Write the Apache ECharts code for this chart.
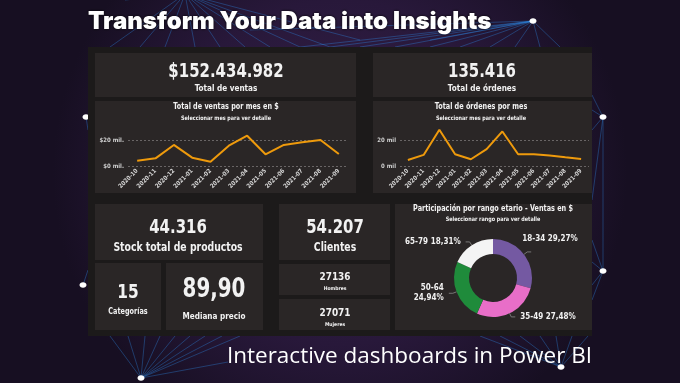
<!DOCTYPE html>
<html><head><meta charset="utf-8">
<script src="https://cdn.jsdelivr.net/npm/echarts@6/dist/echarts.min.js"></script>
<style>html,body{margin:0;padding:0;background:#231631;overflow:hidden}#c{width:680px;height:383px}</style>
</head><body><div id="c"></div>
<script>
// ---- data ----
const months = ['2020-10','2020-11','2020-12','2021-01','2021-02','2021-03','2021-04','2021-05','2021-06','2021-07','2021-08','2021-09'];
const salesByMonth = [4.1, 5.9, 16.2, 6.4, 3.3, 15.6, 23.3, 9.0, 16.2, 18.2, 20.0, 9.2];   // $ mil.
const ordersByMonth = [4.7, 8.7, 28.4, 9.2, 5.3, 13.2, 27.1, 9.2, 9.2, 8.2, 6.8, 5.5];    // mil
const ageRanges = ['18-34', '35-49', '50-64', '65-79'];
const ageShares = [29.27, 27.48, 24.94, 18.31];
const kpiValues = ['$152.434.982', '135.416', '44.316', '15', '89,90', '54.207', '27136', '27071'];
const kpiLabels = ['Total de ventas', 'Total de órdenes', 'Stock total de productos', 'Categorías', 'Mediana precio', 'Clientes', 'Hombres', 'Mujeres'];
const salesTicks = [0, 20];
const orderTicks = [0, 20];

// ---- styling ----
const F = '"DejaVu Sans Condensed","DejaVu Sans",sans-serif';
const TILE = '#2a2626';
const ORANGE = '#ee9a0c';
const pieColors = ['#7459a2', '#e86ec8', '#1f8b3b', '#f4f4f4'];

const chart = echarts.init(document.getElementById('c'), null, {renderer: 'canvas'});

function rect(x, y, w, h, fill, z) {
  return {type: 'rect', shape: {x, y, width: w, height: h}, style: {fill}, z: z || 1, silent: true};
}
function txt(s, x, y, size, opts) {
  opts = opts || {};
  return {type: 'text', z: 5, silent: true, x: x, y: y, scaleX: opts.sx || 1,
    style: {text: s, x: 0, y: 0, fill: opts.fill || '#f2f2f2',
    font: (opts.weight || 'bold') + ' ' + size + 'px ' + (opts.family || F),
    textAlign: opts.align || 'center', textVerticalAlign: 'middle',
    textShadowColor: opts.shadow || 'transparent', textShadowBlur: opts.shadow ? 3 : 0}};
}

// decorative network
const nodes = [[533,21],[603,117],[603,271],[86,117],[83,285],[141,378],[561,367],[185,-6]];
const links = [
  [0,[300,47]],[0,[330,47]],[0,[360,47]],[0,[395,47]],[0,[430,47]],[0,[460,47]],[0,[490,47]],[0,[515,47]],[0,[540,47]],[0,[560,47]],[0,[250,30]],[0,[430,40]],
  [7,[110,47]],[7,[140,47]],[7,[165,47]],[7,[195,47]],[7,[220,47]],[7,[245,47]],[7,[270,47]],[7,[300,47]],[7,[330,47]],[7,[360,40]],[7,[125,0]],
  [1,[592,95]],[1,[592,110]],[1,[592,130]],[1,[603,271]],[1,[592,200]],
  [2,[592,240]],[2,[592,262]],[2,[592,285]],[2,[592,300]],
  [5,[110,336]],[5,[128,336]],[5,[145,336]],[5,[160,336]],[5,[175,336]],[5,[190,336]],[5,[205,336]],[5,[222,336]],[5,[240,336]],[5,[228,362]],
  [6,[480,336]],[6,[500,336]],[6,[520,336]],[6,[540,336]],[6,[556,336]],[6,[572,336]],[6,[588,336]],
  [3,[88,130]],[4,[88,270]]
];
const decor = [];
links.forEach(l => {
  const n = nodes[l[0]];
  decor.push({type: 'line', silent: true, z: 0, shape: {x1: n[0], y1: n[1], x2: l[1][0], y2: l[1][1]},
    style: {stroke: 'rgba(45,140,235,0.5)', lineWidth: 0.7}});
});
nodes.forEach(n => decor.push({type: 'ellipse', silent: true, z: 0, shape: {cx: n[0], cy: n[1], rx: 3.5, ry: 2.8}, style: {fill: '#ffffff'}}));

const VS = 0.83, LS = 0.9;
const graphics = [
  {type: 'rect', z: -1, silent: true, shape: {x: 0, y: 0, width: 680, height: 383},
    style: {fill: new echarts.graphic.RadialGradient(0.5, 0.45, 0.75, [
      {offset: 0, color: '#35214a'}, {offset: 0.6, color: '#28183a'}, {offset: 1, color: '#170f22'}])}},
  ...decor,
  rect(88, 47, 504, 289, '#1c1a1a', 1),
  rect(95, 53, 261, 44, TILE, 2), rect(373, 53, 219, 44, TILE, 2),
  rect(95, 101, 261, 92, TILE, 2), rect(373, 101, 219, 92, TILE, 2),
  rect(95, 204, 168, 56, TILE, 2), rect(95, 263, 66, 67, TILE, 2), rect(166, 263, 97, 67, TILE, 2),
  rect(279, 204, 111, 56, TILE, 2), rect(279, 264, 111, 31, TILE, 2), rect(279, 299, 111, 31, TILE, 2),
  rect(395, 204, 197, 126, TILE, 2),
  txt('Transform Your Data into Insights', 88, 22, 24, {align: 'left', weight: '900', family: '"Inter","Lato",sans-serif', fill: '#ffffff', shadow: '#000'}),
  txt('Interactive dashboards in Power BI', 592, 357, 22.5, {align: 'right', weight: '500', family: '"Open Sans","Lato",sans-serif', fill: '#ffffff'}),
  txt(kpiValues[0], 226, 72, 20, {sx: VS}), txt(kpiLabels[0], 226, 89, 9, {sx: LS}),
  txt(kpiValues[1], 482, 72, 20, {sx: VS}), txt(kpiLabels[1], 482, 89, 9, {sx: LS}),
  txt('Total de ventas por mes en $', 226, 107, 8, {sx: LS}), txt('Seleccionar mes para ver detalle', 226, 118, 6, {sx: LS}),
  txt('Total de órdenes por mes', 481, 107, 8, {sx: LS}), txt('Seleccionar mes para ver detalle', 481, 118, 6, {sx: LS}),
  txt(kpiValues[2], 178, 228, 20, {sx: VS}), txt(kpiLabels[2], 178, 248, 12, {sx: 0.86}),
  txt(kpiValues[3], 128, 293, 19, {sx: 0.9}), txt(kpiLabels[3], 128, 312, 8, {sx: LS}),
  txt(kpiValues[4], 214, 290, 26, {sx: 0.85}), txt(kpiLabels[4], 214, 317, 9, {sx: LS}),
  txt(kpiValues[5], 335, 228, 20, {sx: VS}), txt(kpiLabels[5], 335, 248, 12, {sx: 0.86}),
  txt(kpiValues[6], 335, 277, 11, {sx: LS}), txt(kpiLabels[6], 335, 289, 5),
  txt(kpiValues[7], 335, 313, 11, {sx: LS}), txt(kpiLabels[7], 335, 325, 5),
  txt('Participación por rango etario - Ventas en $', 493, 209, 8, {sx: LS}), txt('Seleccionar rango para ver detalle', 493, 219, 6, {sx: LS})
];

function xAxisCfg(idx) {
  return {gridIndex: idx, type: 'category', data: months, boundaryGap: true, z: 6,
    axisLine: {show: false}, axisTick: {show: false},
    axisLabel: {rotate: 45, interval: 0, fontSize: 6, fontWeight: 'bold', color: '#d6d6d6', margin: 4, fontFamily: F}};
}
function yAxisCfg(idx, ticks, fmt) {
  return {gridIndex: idx, type: 'value', min: ticks[0], max: ticks[ticks.length - 1], interval: ticks[1] - ticks[0], z: 6,
    axisLine: {show: false}, axisTick: {show: false},
    axisLabel: {fontSize: 6, fontWeight: 'bold', color: '#cfcfcf', margin: 4, fontFamily: F, formatter: fmt},
    splitLine: {lineStyle: {color: '#7a7676', type: [2, 2], width: 0.8}}};
}

chart.setOption({
  animation: false,
  backgroundColor: 'transparent',
  graphic: {elements: graphics},
  grid: [
    {left: 128, top: 140, width: 220, height: 26},
    {left: 400, top: 140.5, width: 189, height: 25.5}
  ],
  xAxis: [xAxisCfg(0), xAxisCfg(1)],
  yAxis: [yAxisCfg(0, salesTicks, v => '$' + v + ' mil.'), yAxisCfg(1, orderTicks, v => v + ' mil')],
  series: [
    {type: 'line', xAxisIndex: 0, yAxisIndex: 0, data: salesByMonth, clip: false, symbol: 'none', z: 10,
      lineStyle: {color: ORANGE, width: 2}},
    {type: 'line', xAxisIndex: 1, yAxisIndex: 1, data: ordersByMonth, clip: false, symbol: 'none', z: 10,
      lineStyle: {color: ORANGE, width: 2}},
    {type: 'pie', center: [493, 278], radius: [24, 39], startAngle: 90, clockwise: true, z: 10,
      data: ageRanges.map((r, i) => ({name: r, value: ageShares[i], itemStyle: {color: pieColors[i]}})),
      label: {color: '#f2f2f2', fontSize: 8, fontWeight: 'bold', fontFamily: F, lineHeight: 10,
        formatter: p => p.name + (p.dataIndex === 2 ? '\n' : ' ') + p.value.toFixed(2).replace('.', ',') + '%'},
      labelLine: {length: 4, length2: 4, lineStyle: {color: '#8a8a8a', width: 0.8}},
      labelLayout: p => (p.dataIndex === 0 ? {dx: -14, dy: -13} : {}),
      emphasis: {disabled: true}}
  ]
});
</script></body></html>
